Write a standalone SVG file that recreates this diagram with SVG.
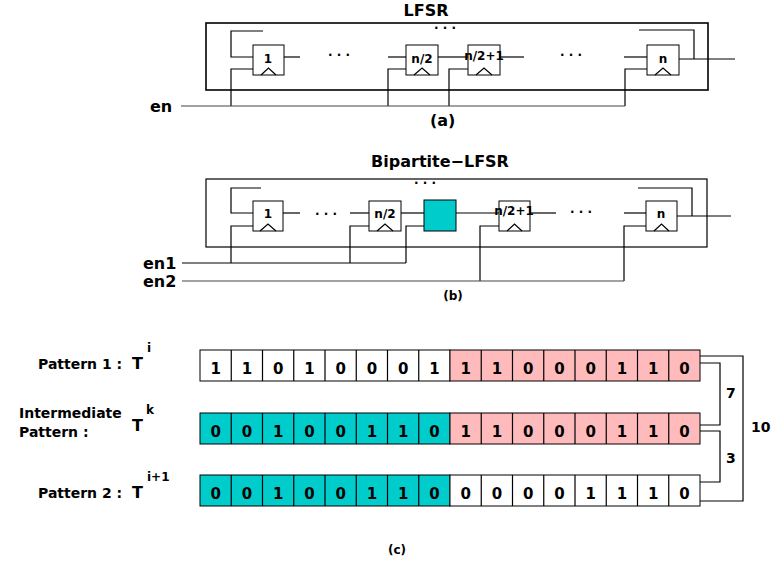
<svg xmlns="http://www.w3.org/2000/svg" width="780" height="583" viewBox="0 0 780 583">
<style>
text{font-family:"DejaVu Sans","Liberation Sans",sans-serif;font-weight:bold;fill:#000}
.t{font-size:16px;text-anchor:middle}
.bl{font-size:12px;text-anchor:middle}
.lab{font-size:16px}
.sub{font-size:12px;text-anchor:middle}
.ln{fill:none;stroke:#000;stroke-width:1.2}
.box{fill:#fff;stroke:#000;stroke-width:1}
.cy{fill:#00CCCC;stroke:#000;stroke-width:1}
.pk{fill:#FFBBBB;stroke:#000;stroke-width:1}
.wh{fill:#fff;stroke:#000;stroke-width:1}
.dig{font-size:15px;text-anchor:middle}
.pl{font-size:14px}
.lb{font-size:14px}
.tt{font-size:16px}
.sp{font-size:12px}
.dots{font-size:12px;text-anchor:middle}
</style>
<g id="lfsr-a">
<text class="t" x="426" y="16">LFSR</text>
<rect x="206" y="23" width="502" height="67" fill="none" stroke="#000" stroke-width="1.6"/>
<text class="dots" x="445" y="32">· · ·</text>
<text class="dots" x="339" y="59">· · ·</text>
<text class="dots" x="571" y="59">· · ·</text>
</g>
<g id="a-ff1"><rect class="box" x="253" y="45" width="31" height="30"/><polyline class="ln" points="261,75 268.5,68 276,75"/><text class="bl" x="268" y="63">1</text></g>
<g id="a-ffn2"><rect class="box" x="406" y="45" width="32" height="30"/><polyline class="ln" points="414,75 422,68 430,75"/><text class="bl" x="422" y="63">n/2</text></g>
<g id="a-ffn21"><rect class="box" x="468" y="45" width="32" height="30"/><polyline class="ln" points="476,75 484,68 492,75"/><text class="bl" x="484" y="60">n/2+1</text></g>
<g id="a-ffn"><rect class="box" x="647" y="45" width="32" height="30"/><polyline class="ln" points="655,75 663,68 671,75"/><text class="bl" x="663" y="63">n</text></g>
<g id="a-connectors">
<polyline class="ln" points="263,31 231,31 231,57 253,57"/>
<polyline class="ln" points="253,69 231,69 231,106"/>
<line class="ln" x1="284" y1="57" x2="300" y2="57"/>
<polyline class="ln" points="388,57 406,57"/>
<polyline class="ln" points="406,69 388,69 388,106"/>
<line class="ln" x1="438" y1="57" x2="468" y2="57"/>
<polyline class="ln" points="468,69 449,69 449,106"/>
<line class="ln" x1="500" y1="57" x2="524" y2="57"/>
<line class="ln" x1="624" y1="57" x2="647" y2="57"/>
<polyline class="ln" points="647,69 625,69 625,106"/>
<polyline class="ln" points="639,30 694,30 694,59"/>
<line class="ln" x1="679" y1="59" x2="735" y2="59"/>
<line stroke="#444" stroke-width="1.2" x1="181" y1="106" x2="625" y2="106"/>
</g>
<text class="lab" x="150" y="112">en</text>
<text class="lab" x="430" y="126">(a)</text>
<g id="lfsr-b">
<text class="t" x="440" y="167">Bipartite−LFSR</text>
<rect x="206" y="179" width="501" height="68" fill="none" stroke="#000" stroke-width="1.2"/>
<text class="dots" x="425" y="187">· · ·</text>
<text class="dots" x="326" y="218">· · ·</text>
<text class="dots" x="581" y="216">· · ·</text>
</g>
<g id="b-ff1"><rect class="box" x="253" y="201" width="30" height="30"/><polyline class="ln" points="260,231 268,224 276,231"/><text class="bl" x="268" y="218">1</text></g>
<g id="b-ffn2"><rect class="box" x="369" y="201" width="32" height="30"/><polyline class="ln" points="377,231 385,224 393,231"/><text class="bl" x="385" y="218">n/2</text></g>
<g id="b-sep"><rect class="cy" x="424" y="200" width="32" height="31"/></g>
<g id="b-ffn21"><rect class="box" x="499" y="201" width="31" height="30"/><polyline class="ln" points="507,231 514.5,224 522,231"/><text class="bl" x="514" y="215">n/2+1</text></g>
<g id="b-ffn"><rect class="box" x="646" y="201" width="31" height="30"/><polyline class="ln" points="654,231 661.5,224 669,231"/><text class="bl" x="661" y="218">n</text></g>
<g id="b-connectors">
<polyline class="ln" points="261,188 231,188 231,213 253,213"/>
<polyline class="ln" points="253,226 231,226 231,263"/>
<line class="ln" x1="283" y1="213" x2="300" y2="213"/>
<line class="ln" x1="350" y1="213" x2="369" y2="213"/>
<polyline class="ln" points="369,226 350,226 350,263"/>
<line class="ln" x1="401" y1="213" x2="424" y2="213"/>
<polyline class="ln" points="424,226 406,226 406,263"/>
<line class="ln" x1="456" y1="213" x2="499" y2="213"/>
<polyline class="ln" points="499,226 480,226 480,281"/>
<line class="ln" x1="530" y1="213" x2="556" y2="213"/>
<line class="ln" x1="624" y1="213" x2="646" y2="213"/>
<polyline class="ln" points="646,226 624,226 624,281"/>
<polyline class="ln" points="638,188 692,188 692,216"/>
<line class="ln" x1="677" y1="216" x2="731" y2="216"/>
<line class="ln" x1="182" y1="263" x2="406" y2="263"/>
<line stroke="#444" stroke-width="1.2" x1="182" y1="281" x2="624" y2="281"/>
</g>
<text class="lab" x="143" y="269">en1</text>
<text class="lab" x="143" y="287">en2</text>
<text class="sub" x="453" y="300">(b)</text>
<g id="row1">
<rect class="wh" x="200" y="350" width="250" height="31"/>
<rect class="pk" x="450" y="350" width="250" height="31"/>
<path class="ln" d="M231.25,350V381M262.5,350V381M293.75,350V381M325,350V381M356.25,350V381M387.5,350V381M418.75,350V381M481.25,350V381M512.5,350V381M543.75,350V381M575,350V381M606.25,350V381M637.5,350V381M668.75,350V381"/>
<text class="dig" y="374"><tspan x="215.6">1</tspan><tspan x="246.9">1</tspan><tspan x="278.1">0</tspan><tspan x="309.4">1</tspan><tspan x="340.6">0</tspan><tspan x="371.9">0</tspan><tspan x="403.1">0</tspan><tspan x="434.4">1</tspan><tspan x="465.6">1</tspan><tspan x="496.9">1</tspan><tspan x="528.1">0</tspan><tspan x="559.4">0</tspan><tspan x="590.6">0</tspan><tspan x="621.9">1</tspan><tspan x="653.1">1</tspan><tspan x="684.4">0</tspan></text>
</g>
<g id="row2">
<rect class="cy" x="200" y="413" width="250" height="31"/>
<rect class="pk" x="450" y="413" width="250" height="31"/>
<path class="ln" d="M231.25,413V444M262.5,413V444M293.75,413V444M325,413V444M356.25,413V444M387.5,413V444M418.75,413V444M481.25,413V444M512.5,413V444M543.75,413V444M575,413V444M606.25,413V444M637.5,413V444M668.75,413V444"/>
<text class="dig" y="437"><tspan x="215.6">0</tspan><tspan x="246.9">0</tspan><tspan x="278.1">1</tspan><tspan x="309.4">0</tspan><tspan x="340.6">0</tspan><tspan x="371.9">1</tspan><tspan x="403.1">1</tspan><tspan x="434.4">0</tspan><tspan x="465.6">1</tspan><tspan x="496.9">1</tspan><tspan x="528.1">0</tspan><tspan x="559.4">0</tspan><tspan x="590.6">0</tspan><tspan x="621.9">1</tspan><tspan x="653.1">1</tspan><tspan x="684.4">0</tspan></text>
</g>
<g id="row3">
<rect class="cy" x="200" y="475" width="250" height="31"/>
<rect class="wh" x="450" y="475" width="250" height="31"/>
<path class="ln" d="M231.25,475V506M262.5,475V506M293.75,475V506M325,475V506M356.25,475V506M387.5,475V506M418.75,475V506M481.25,475V506M512.5,475V506M543.75,475V506M575,475V506M606.25,475V506M637.5,475V506M668.75,475V506"/>
<text class="dig" y="499"><tspan x="215.6">0</tspan><tspan x="246.9">0</tspan><tspan x="278.1">1</tspan><tspan x="309.4">0</tspan><tspan x="340.6">0</tspan><tspan x="371.9">1</tspan><tspan x="403.1">1</tspan><tspan x="434.4">0</tspan><tspan x="465.6">0</tspan><tspan x="496.9">0</tspan><tspan x="528.1">0</tspan><tspan x="559.4">0</tspan><tspan x="590.6">1</tspan><tspan x="621.9">1</tspan><tspan x="653.1">1</tspan><tspan x="684.4">0</tspan></text>
</g>
<g id="distances">
<polyline class="ln" points="700,363 720,363 720,425 700,425"/>
<polyline class="ln" points="700,431 720,431 720,482 700,482"/>
<polyline class="ln" points="700,356 743,356 743,501 700,501"/>
<text class="pl" x="726" y="398">7</text>
<text class="pl" x="726" y="463">3</text>
<text class="pl" x="751" y="432">10</text>
</g>
<g id="labels">
<text class="lb" x="38" y="369">Pattern 1 :</text>
<text class="tt" x="132" y="369">T</text><text class="sp" x="147" y="352">i</text>
<text class="lb" x="19" y="418">Intermediate</text>
<text class="lb" x="19" y="437">Pattern :</text>
<text class="tt" x="132" y="431">T</text><text class="sp" x="146" y="414">k</text>
<text class="lb" x="38" y="498">Pattern 2 :</text>
<text class="tt" x="132" y="498">T</text><text class="sp" x="147" y="481">i+1</text>
<text class="sub" x="397" y="554">(c)</text>
</g>
</svg>
